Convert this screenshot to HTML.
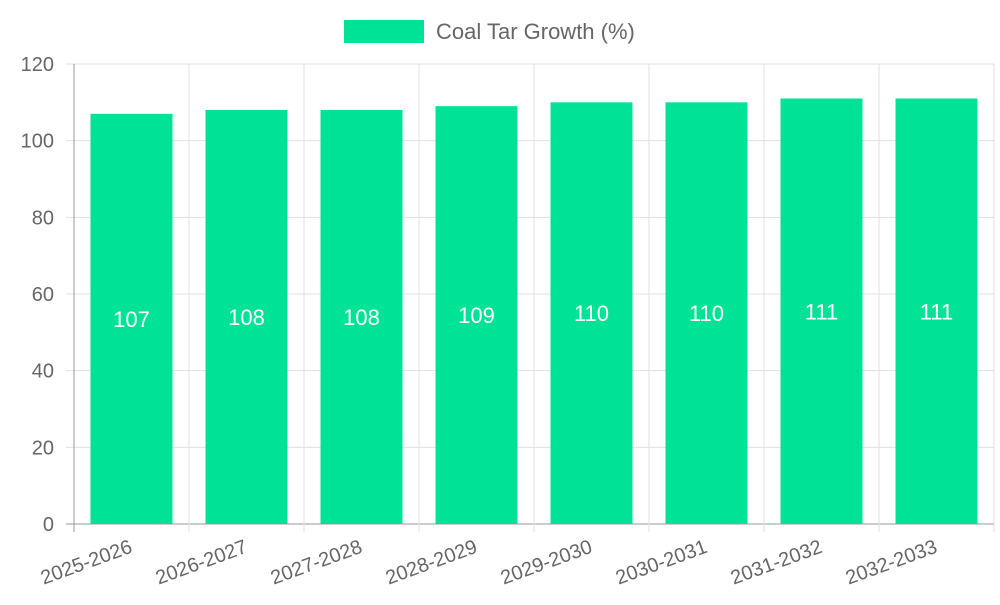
<!DOCTYPE html>
<html><head><meta charset="utf-8"><style>
html,body{margin:0;padding:0;background:#fff;}
svg text{font-family:"Liberation Sans",Arial,sans-serif;}
</style></head><body>
<svg id="chart" width="1000" height="600" xmlns="http://www.w3.org/2000/svg">
<g>
<rect x="344" y="20" width="80" height="23" fill="#00e396"/>
<text x="436" y="39" font-size="22" fill="#666">Coal Tar Growth (%)</text>
</g>
<g id="grid"></g>
<g id="bars"></g>
<g id="axes"></g>
</svg>
<script>
const categories=["2025-2026","2026-2027","2027-2028","2028-2029","2029-2030","2030-2031","2031-2032","2032-2033"];
const values=[107,108,108,109,110,110,111,111];
const yTicks=[0,20,40,60,80,100,120];
const NS="http://www.w3.org/2000/svg";
const L=74,R=994,T=64,B=524,yMax=120;
const bw=(R-L)/categories.length;
const y=v=>B-(v/yMax)*(B-T);
const x=i=>L+i*bw;
function mk(tag,attrs,parent,txt){const e=document.createElementNS(NS,tag);for(const k in attrs)e.setAttribute(k,attrs[k]);if(txt!=null)e.textContent=txt;parent.appendChild(e);return e;}
const grid=document.getElementById('grid'),bars=document.getElementById('bars'),axes=document.getElementById('axes');
yTicks.forEach(t=>{
  const g=mk('line',{x1:L-8,x2:R,y1:y(t),y2:y(t),stroke:t===0?'#999':'#e0e0e0','stroke-width':1},grid);
  
  
  const lb=mk('text',{x:L-20,y:y(t)+7,'text-anchor':'end','font-size':20,fill:'#666'},axes,t);
  
  
});
for(let i=0;i<=categories.length;i++){
  const g=mk('line',{x1:x(i),x2:x(i),y1:T,y2:B+8,stroke:i===0?'#999':'#e0e0e0','stroke-width':1},grid);
  
  
}
categories.forEach((c,i)=>{
  const cx=x(i)+bw/2,w=82;
  const r=mk('rect',{x:cx-w/2,y:y(values[i]),width:w,height:B-y(values[i]),fill:'#00e396'},bars);
  
  
  const vt=mk('text',{x:cx,y:(y(values[i])+B)/2+8,'text-anchor':'middle','font-size':22,fill:'#fff'},bars,values[i]);
  
  
  const xl=mk('text',{x:cx+2,y:B+28,'text-anchor':'end','font-size':20,fill:'#666',transform:`rotate(-20 ${cx+2} ${B+28})`},axes,c);
  
  
});
</script>
</body></html>
